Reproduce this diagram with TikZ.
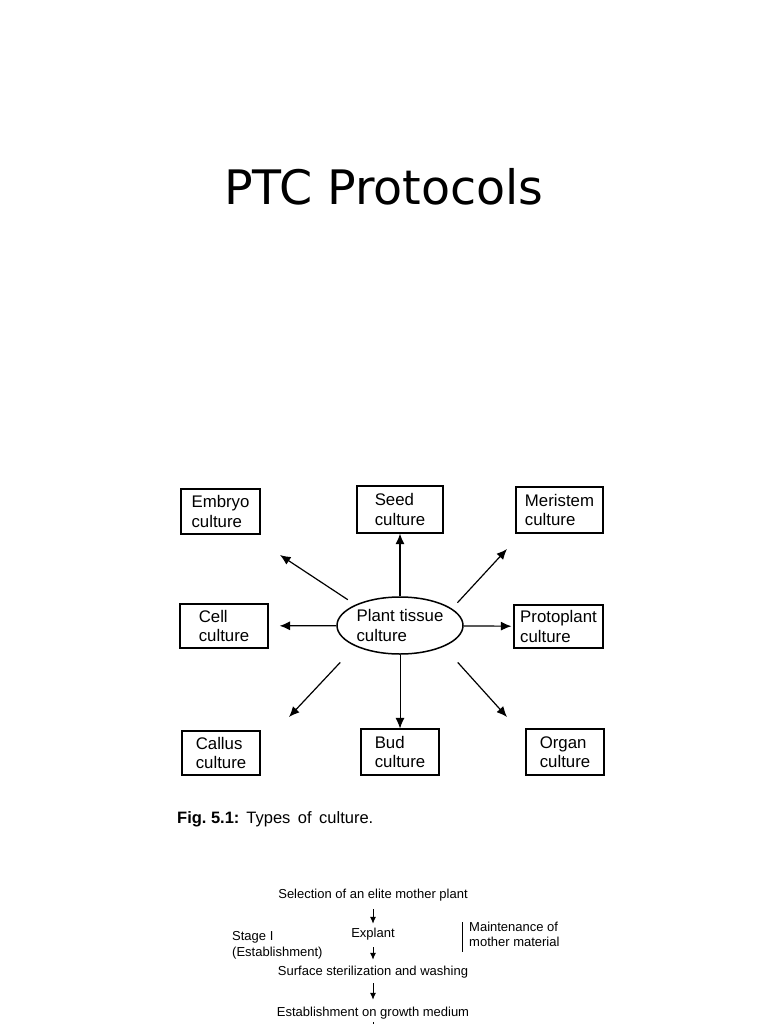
\documentclass[tikz,border=0pt]{standalone}
\usepackage{fontspec}
\setmainfont{Liberation Sans}
\newfontfamily\titlefont{DejaVu Sans}
\usetikzlibrary{arrows.meta,shapes.geometric}
\tikzset{
  box/.style={draw, line width=1.1pt, minimum width=#1, inner sep=0pt, align=left,
    font=\fontsize{16.8}{19.5}\selectfont},
  arr/.style={line width=1.2pt, -{Latex[length=10.5pt,width=9pt]}},
  smallarr/.style={line width=0.9pt, -{Latex[length=7pt,width=6pt]}},
  flow/.style={inner sep=0pt, font=\fontsize{13}{15.5}\selectfont},
}
\begin{document}
\begin{tikzpicture}[x=1pt,y=-1pt]
\useasboundingbox (0,0) rectangle (768,1024);
\fill[white] (0,0) rectangle (768,1024);
% title
\node[anchor=base, inner sep=0pt, font=\titlefont\fontsize{47.5}{52}\selectfont] (title) at (384,205) {PTC Protocols};
% boxes
\node[box=79pt, minimum height=45pt] (emb) at (220.5,511.5) {Embryo\\culture};
\node[box=86pt, minimum height=47pt] (seed) at (400,509.5) {Seed\\culture};
\node[box=87pt, minimum height=46pt] (mer) at (559.5,510) {Meristem\\culture};
\node[box=88pt, minimum height=44pt] (cell) at (224,626) {Cell\\culture};
\node[box=89pt, minimum height=43pt] (pro) at (558.5,626.5) {Protoplant\\culture};
\node[box=78pt, minimum height=44pt] (cal) at (221,753) {Callus\\culture};
\node[box=78pt, minimum height=46pt] (bud) at (400,752) {Bud\\culture};
\node[box=78pt, minimum height=46pt] (org) at (565,752) {Organ\\culture};
\node[draw, ellipse, line width=1.5pt, minimum width=126pt, minimum height=57pt, inner sep=0pt,
  align=left, font=\fontsize{16.8}{20}\selectfont] (ptc) at (400,625.5) {Plant tissue\\culture};
% free ends of diagonal arrows
\coordinate (tE) at (280,555);
\coordinate (tM) at (507,549);
\coordinate (tC) at (289,717);
\coordinate (tO) at (507,717);
% arrows
\draw[arr] (ptc) -- (seed);
\draw[arr, line width=0.9pt] (ptc) -- (bud);
\draw[arr, shorten >=11pt] (ptc) -- (cell);
\draw[arr, shorten >=2pt] (ptc) -- (pro);
\draw[arr, shorten <=9pt] (ptc.155) -- (tE);
\draw[arr, shorten <=8pt] (ptc.18) -- (tM);
\draw[arr, shorten <=22pt] (ptc.205) -- (tC);
\draw[arr, shorten <=21pt] (ptc.334) -- (tO);
% caption
\node[anchor=base west, inner sep=0pt, font=\fontsize{16.5}{19}\selectfont] (cap) at (177,823)
  {\textbf{Fig.\hspace{4.5pt}5.1:}\hspace{7pt}Types\hspace{7.5pt}of\hspace{7.5pt}culture.};
% flow chart
\node[flow] (sel) at (373,895) {Selection of an elite mother plant};
\node[flow] (exp) at (373,934) {Explant};
\node[flow] (sur) at (373,972) {Surface sterilization and washing};
\node[flow] (est) at (373,1013) {Establishment on growth medium};
\node[flow, anchor=west, align=left] (stage) at (232,945.5) {Stage I\\(Establishment)};
\node[flow, anchor=west, align=left] (maint) at (469,934.5) {Maintenance of\\mother material};
\coordinate (bar1) at (462,922);
\coordinate (bar2) at (462,952);
\draw[line width=0.6pt] (bar1) -- (bar2);
\coordinate (endarr) at (373,1034);
\draw[smallarr, shorten <=8pt, shorten >=4pt] (sel) -- (exp);
\draw[smallarr, shorten <=7pt, shorten >=6pt] (exp) -- (sur);
\draw[smallarr, shorten <=5pt, shorten >=7pt] (sur) -- (est);
\draw[line width=0.9pt, shorten <=3pt] (est) -- (endarr);
\end{tikzpicture}
\end{document}
